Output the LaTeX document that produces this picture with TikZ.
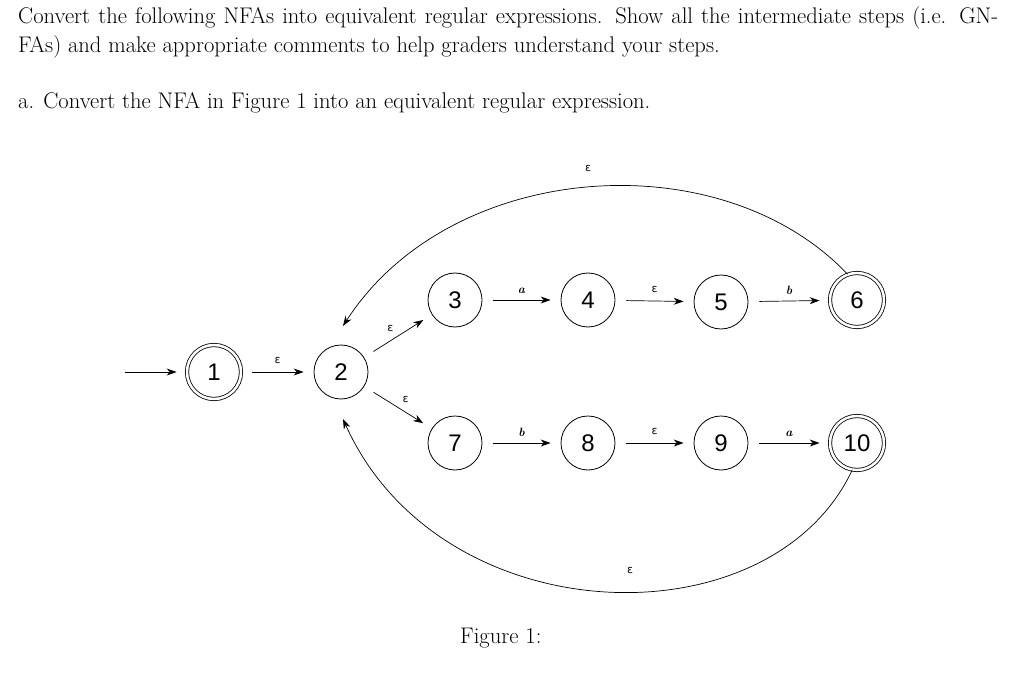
\documentclass[tikz,border=0pt]{standalone}
\usepackage{fontspec}
\newfontfamily\hv{Liberation Sans}
\newfontfamily\dv{DejaVu Sans}
\usetikzlibrary{arrows.meta}
\tikzset{
 st/.style={circle,draw,line width=0.8pt,minimum size=54pt,inner sep=0pt,font=\hv\fontsize{24}{24}\selectfont},
 acc/.style={st,double,double distance=2.5pt},
 arr/.style={line width=0.7pt,-{Stealth[length=10pt,width=7pt]},shorten <=11pt,shorten >=10pt},
 lab/.style={font=\dv\fontsize{11}{11}\selectfont},
 sym/.style={font=\bfseries\itshape\fontsize{12}{12}\selectfont},
 txt/.style={anchor=base west,inner sep=0pt,font=\fontsize{22.6}{29}\selectfont}
}
\begin{document}
\begin{tikzpicture}[x=1pt,y=-1pt]
\useasboundingbox[fill=white] (0,0) rectangle (1024,684);
\node[txt,text width=980pt,align=justify] at (18,24) {Convert the following NFAs into equivalent regular expressions. Show all the intermediate steps (i.e. GN-\linebreak FAs) and make appropriate comments to help graders understand your steps.};
\node[txt] at (18,109) {a. Convert the NFA in Figure 1 into an equivalent regular expression.};
\node[txt] at (460,643) {Figure 1:};
\node[acc] (n1) at (214,372) {1};
\node[st] (n2) at (341,372) {2};
\node[st] (n3) at (455,300) {3};
\node[st] (n4) at (588,300) {4};
\node[st] (n5) at (721,302) {5};
\node[acc] (n6) at (857,300) {6};
\node[st] (n7) at (455,443) {7};
\node[st] (n8) at (588,443) {8};
\node[st] (n9) at (721,443) {9};
\node[acc] (n10) at (857,443) {10};
\coordinate (s) at (125,372);
\draw[arr,shorten <=0pt] (s) -- (n1);
\draw[arr] (n1) -- node[lab,above=5pt]{ε} (n2);
\draw[arr] (n2) -- node[lab,above left=1pt]{ε} (n3);
\draw[arr] (n2) -- node[lab,above right=1pt]{ε} (n7);
\draw[arr] (n3) -- node[sym,above=3pt]{a} (n4);
\draw[arr] (n4) -- node[lab,above=5pt]{ε} (n5);
\draw[arr] (n5) -- node[sym,above=3pt]{b} (n6);
\draw[arr] (n7) -- node[sym,above=3pt]{b} (n8);
\draw[arr] (n8) -- node[lab,above=5pt]{ε} (n9);
\draw[arr] (n9) -- node[sym,above=3pt]{a} (n10);
\draw[line width=0.7pt,-{Stealth[length=10pt,width=7pt]}] (n6.110) .. controls (720,140) and (450,160) .. (343,326);
\draw[line width=0.7pt,-{Stealth[length=10pt,width=7pt]}] (n10.260) .. controls (770,645) and (440,635) .. (343,419);
\node[lab] at (588,168) {ε};
\node[lab] at (630,570) {ε};
\end{tikzpicture}
\end{document}
